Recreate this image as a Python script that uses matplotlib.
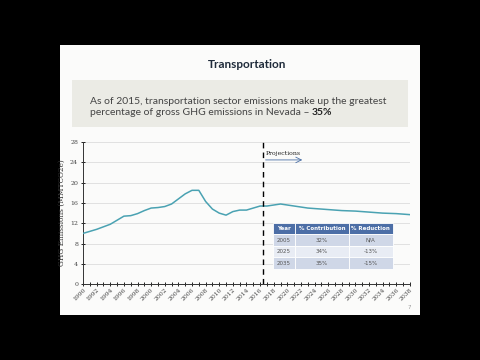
import numpy as np
import matplotlib
matplotlib.use('Agg')
import matplotlib.pyplot as plt
from matplotlib.patches import Rectangle

# Nevada transportation GHG emissions (MMTCO2e), historical + projected
years = np.arange(1990, 2039)
emissions = [10.0, 10.4, 10.8, 11.3, 11.8, 12.6, 13.4, 13.5, 13.9, 14.5,
             15.0, 15.1, 15.3, 15.8, 16.8, 17.8, 18.5, 18.5, 16.3, 14.8,
             14.0, 13.6, 14.3, 14.6, 14.6, 15.0, 15.4, 15.4, 15.6, 15.8,
             15.6, 15.4, 15.2, 15.0, 14.9, 14.8, 14.7, 14.6, 14.5, 14.45,
             14.4, 14.3, 14.2, 14.1, 14.0, 13.95, 13.9, 13.8, 13.7]
projection_start = 2016.4
yticks = [0, 4, 8, 12, 16, 20, 24, 28]
xtick_years = list(range(1990, 2039, 2))

table_cols = ['Year', '% Contribution', '% Reduction']
table_rows = [['2005', '32%', 'N/A'],
              ['2025', '34%', '-13%'],
              ['2035', '35%', '-15%']]

fig = plt.figure(figsize=(4.8, 3.6), dpi=100)
fig.patch.set_facecolor('black')

# slide background and header box
fig.add_artist(Rectangle((0.125, 0.125), 0.75, 0.75, transform=fig.transFigure,
                         facecolor='#fbfbfa', edgecolor='none', zorder=0))
fig.add_artist(Rectangle((0.15, 0.647), 0.70, 0.131, transform=fig.transFigure,
                         facecolor='#ebebe5', edgecolor='none', zorder=0))
fig.text(0.515, 0.822, 'Transportation', ha='center', va='center', fontsize=8.5,
         fontweight='bold', family='Lato', color='#1f2b3a')
fig.text(0.1875, 0.718, 'As of 2015, transportation sector emissions make up the greatest',
         ha='left', va='center', fontsize=7.5, family='Lato', color='#444444')
t2 = fig.text(0.1875, 0.687, 'percentage of gross GHG emissions in Nevada \u2013 ',
              ha='left', va='center', fontsize=7.5, family='Lato', color='#444444')
fig.canvas.draw()
bb = t2.get_window_extent().transformed(fig.transFigure.inverted())
fig.text(bb.x1, 0.687, '35%', ha='left', va='center', fontsize=7.5, family='Lato',
         fontweight='bold', color='#222222')
fig.text(0.852, 0.147, '7', ha='center', va='center', fontsize=4, color='#999999')

# chart
ax = fig.add_axes([0.173, 0.211, 0.681, 0.394])
ax.set_facecolor('none')
ax.plot(years, emissions, color='#4aa2b2', linewidth=1.1, zorder=3)
ax.axvline(projection_start, color='black', linestyle=(0, (4, 3)), linewidth=1.0, zorder=4)
ax.text(projection_start + 0.4, 25.8, 'Projections', fontsize=4.5, family='DejaVu Serif',
        va='center', ha='left', color='#222222')
ax.annotate('', xy=(2022.6, 24.5), xytext=(projection_start, 24.5),
            arrowprops=dict(arrowstyle='->', color='#4a6fa5', lw=0.6))

ax.set_xlim(1990, 2038)
ax.set_ylim(0, 28)
ax.set_yticks(yticks)
ax.set_xticks(years, minor=True)
ax.set_xticks(xtick_years)
ax.set_xticklabels([str(y) for y in xtick_years], rotation=45, ha='right',
                   rotation_mode='anchor', fontsize=4.4, family='DejaVu Serif', color='#444444')
ax.set_yticklabels([str(v) for v in yticks], fontsize=4.5, family='DejaVu Serif', color='#444444')
ax.tick_params(axis='x', which='both', direction='inout', length=3, width=0.6, pad=1)
ax.tick_params(axis='y', direction='inout', length=3, width=0.6, pad=2)
ax.grid(axis='y', color='#dddddd', linewidth=0.6)
ax.set_axisbelow(True)
for s in ['top', 'right']:
    ax.spines[s].set_visible(False)
for s in ['left', 'bottom']:
    ax.spines[s].set_linewidth(0.7)
    ax.spines[s].set_color('#333333')
ax.set_ylabel('GHG Emissions (MMTCO2e)', fontsize=5.3, family='DejaVu Serif', color='#333333', labelpad=3)

tbl = ax.table(cellText=table_rows, colLabels=table_cols, cellLoc='center',
               colWidths=[0.188, 0.447, 0.364], bbox=[0.58, 0.106, 0.367, 0.326])
tbl.auto_set_font_size(False)
tbl.set_fontsize(4)
row_colors = ['#cfd7e7', '#e8ecf4', '#cfd7e7']
for (r, c), cell in tbl.get_celld().items():
    cell.set_edgecolor('white')
    cell.set_linewidth(0.6)
    if r == 0:
        cell.set_facecolor('#4c6ea6')
        cell.get_text().set_color('white')
        cell.get_text().set_fontweight('bold')
    else:
        cell.set_facecolor(row_colors[r - 1])
        cell.get_text().set_color('#555555')
tbl.set_zorder(5)

fig.savefig('out.png', dpi=100, facecolor=fig.get_facecolor())
